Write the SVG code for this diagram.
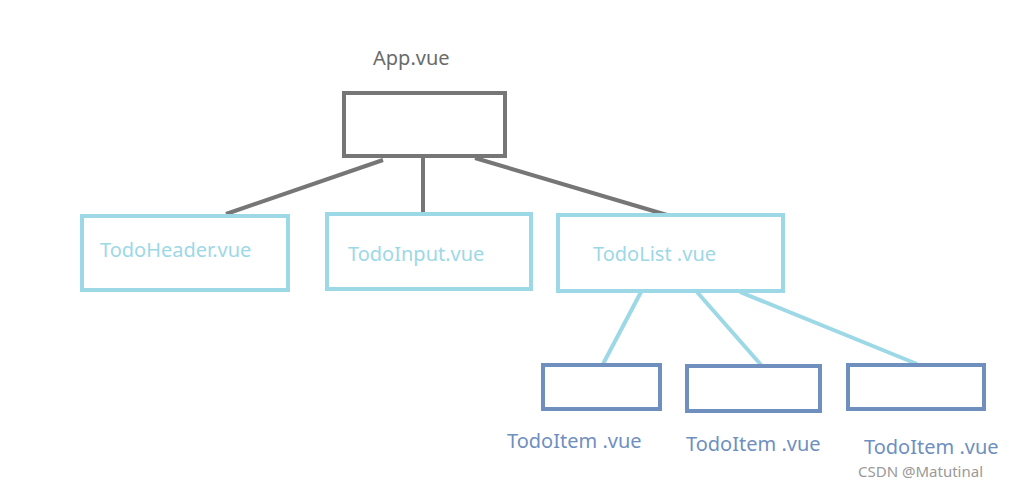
<svg xmlns="http://www.w3.org/2000/svg" width="1031" height="489" viewBox="0 0 1031 489">
<style>
text{font-family:"Noto Sans","Liberation Sans",sans-serif;font-size:20px}
.g{fill:none;stroke:#767676;stroke-width:4}
.b{fill:none;stroke:#9dd8e6;stroke-width:4}
.d{fill:none;stroke:#6f8fbf;stroke-width:4}
.tb{fill:#9dd8e6}.td{fill:#6f8fbf}
</style>
<rect width="1031" height="489" fill="#fff"/>
<g id="connectors">
<line class="g" x1="383" y1="160" x2="226" y2="214"/>
<line class="g" x1="423" y1="158" x2="423" y2="214"/>
<line class="g" x1="475" y1="158" x2="667" y2="215"/>
<line class="b" x1="641" y1="292" x2="603" y2="364"/>
<line class="b" x1="697" y1="292" x2="762" y2="366"/>
<line class="b" x1="740" y1="292" x2="917" y2="364"/>
</g>
<g id="app"><text x="373" y="65" fill="#6b6b6b">App.vue</text><rect class="g" x="344" y="93" width="161" height="63"/></g>
<g id="header"><rect class="b" x="82" y="216" width="206" height="74"/><text class="tb" x="100" y="257">TodoHeader.vue</text></g>
<g id="input"><rect class="b" x="327" y="214" width="204" height="75"/><text class="tb" x="348" y="261">TodoInput.vue</text></g>
<g id="list"><rect class="b" x="558" y="215" width="225" height="76"/><text class="tb" x="593" y="261">TodoList .vue</text></g>
<g id="item1"><rect class="d" x="543" y="365" width="117" height="44"/><text class="td" x="507" y="448">TodoItem .vue</text></g>
<g id="item2"><rect class="d" x="687" y="366" width="133" height="45"/><text class="td" x="686" y="451">TodoItem .vue</text></g>
<g id="item3"><rect class="d" x="848" y="365" width="136" height="44"/><text class="td" x="864" y="454">TodoItem .vue</text></g>
<text x="858" y="477" fill="#999" style="font-size:15px">CSDN @Matutinal</text>
</svg>
